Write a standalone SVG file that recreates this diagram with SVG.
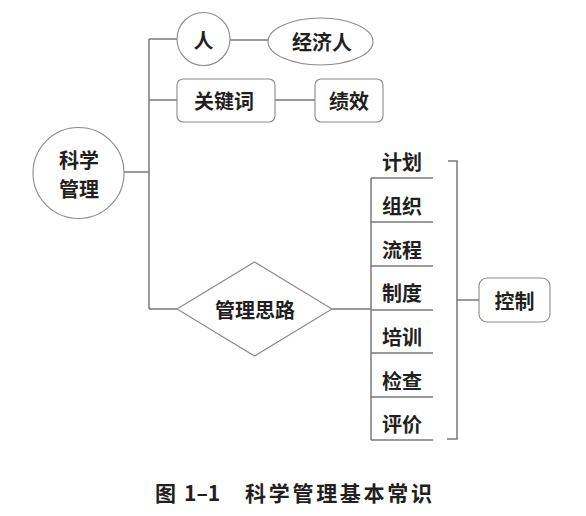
<svg xmlns="http://www.w3.org/2000/svg" width="586" height="516" viewBox="0 0 586 516">
<style>
.shape{fill:#fff;stroke:#8a8a8a;stroke-width:1.1}
.ln{fill:none;stroke:#7a7a7a;stroke-width:1.5}
.t{font-family:"Noto Sans CJK SC","Liberation Sans",sans-serif;font-size:20px;font-weight:bold;fill:#231f20;text-anchor:middle;dominant-baseline:central}
.cap{font-family:"Noto Sans CJK SC","Liberation Sans",sans-serif;font-size:21px;font-weight:bold;fill:#231f20;dominant-baseline:central}
</style>
<rect width="586" height="516" fill="#fff"/>
<g id="connectors">
<path class="ln" d="M124,172 H149 M149,39 V309 M149,39 H177 M149,100 H177 M149,309 H177"/>
<path class="ln" d="M230,40 H268 M275,100 H315 M332,309 H371"/>
<path class="ln" d="M371,178 V440 M371,178 H433 M371,222 H433 M371,266 H433 M371,310 H433 M371,353 H433 M371,397 H433 M371,440 H433"/>
<path class="ln" d="M448,161 H457 V439 H447 M457,300 H479"/>
</g>
<g id="kexueguanli"><circle class="shape" cx="78.5" cy="173" r="45.5"/><text class="t" font-size="19"><tspan x="79" y="158.5">科学</tspan><tspan x="79" y="187.5">管理</tspan></text></g>
<g id="ren"><circle class="shape" cx="203.5" cy="39" r="26.5"/><text class="t" x="203.5" y="39">人</text></g>
<g id="jingjiren"><ellipse class="shape" cx="320.5" cy="41.5" rx="52.5" ry="23.5"/><text class="t" x="322" y="41">经济人</text></g>
<g id="guanjianci"><rect class="shape" x="177" y="79" width="98" height="43" rx="6"/><text class="t" x="224" y="100">关键词</text></g>
<g id="jixiao"><rect class="shape" x="315" y="79" width="68" height="43" rx="6"/><text class="t" x="349" y="100">绩效</text></g>
<g id="guanlisilu"><polygon class="shape" points="177,309 254.5,262 332,309 254.5,356"/><text class="t" x="255" y="309">管理思路</text></g>
<g id="list">
<text class="t" x="402" y="161">计划</text>
<text class="t" x="402" y="205">组织</text>
<text class="t" x="402" y="249">流程</text>
<text class="t" x="402" y="292">制度</text>
<text class="t" x="402" y="336">培训</text>
<text class="t" x="402" y="380">检查</text>
<text class="t" x="402" y="423">评价</text>
</g>
<g id="kongzhi"><rect class="shape" x="479" y="278" width="71" height="44" rx="8"/><text class="t" x="514.5" y="300">控制</text></g>
<g id="caption">
<text class="cap" x="155" y="492">图</text>
<text class="cap" x="184" y="492" font-family="Liberation Sans, sans-serif">1–1</text>
<text class="cap" x="245" y="492" textLength="187" lengthAdjust="spacing">科学管理基本常识</text>
</g>
</svg>
